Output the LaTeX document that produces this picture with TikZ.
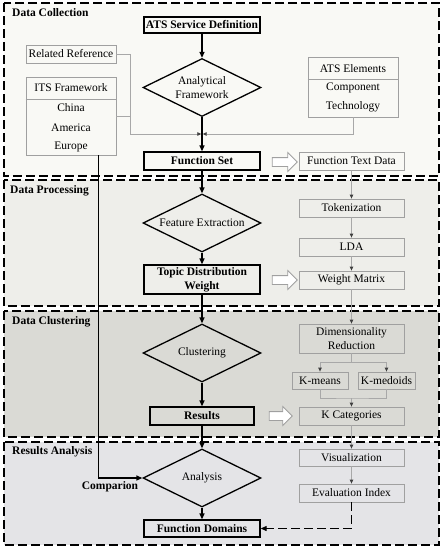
\documentclass[tikz,border=0pt]{standalone}
\usepackage{fontspec}
\setmainfont{Liberation Serif}
\usetikzlibrary{arrows.meta,shapes.geometric,shapes.arrows}
\definecolor{pA}{HTML}{F9F9F5}
\definecolor{pB}{HTML}{EEEEEA}
\definecolor{pC}{HTML}{DADAD5}
\definecolor{pD}{HTML}{E4E4E7}
\definecolor{boxgray}{HTML}{A0A0A0}
\definecolor{linegray}{HTML}{A8A8A8}
\begin{document}
\begin{tikzpicture}[x=1pt,y=-1pt,
  font=\fontsize{11.5}{14}\selectfont,
  panel/.style={draw, line width=1.3pt, dash pattern=on 9pt off 4pt},
  plabel/.style={anchor=west, inner sep=0pt, font=\fontsize{11.5}{14}\selectfont\bfseries},
  mainbox/.style={draw, line width=1.3pt, align=center, inner sep=0pt, minimum width=116pt, minimum height=18pt, font=\fontsize{11.5}{14}\selectfont\bfseries},
  dia/.style={diamond, draw, line width=1.3pt, shape aspect=2, minimum width=118pt, minimum height=58pt, inner sep=0pt, align=center},
  graybox/.style={draw=boxgray, line width=0.8pt, align=center, inner sep=0pt, minimum width=105pt, minimum height=18pt},
  txt/.style={inner sep=0pt, align=center},
  mainarrow/.style={line width=1.3pt, -{Triangle[length=6pt,width=5pt]}},
  grayline/.style={draw=linegray, line width=0.8pt},
  grayarrow/.style={draw=linegray, line width=0.8pt, -{Triangle[length=4pt,width=3.5pt,color=black!75]}},
  hollow/.style={single arrow, draw=boxgray, fill=white, line width=0.8pt, minimum height=25pt, inner sep=4pt, single arrow head extend=5pt}
]
\useasboundingbox (0,0) rectangle (442,550);
% panels
\draw[panel, fill=pA] (4,3) rectangle (439,176);
\draw[panel, fill=pB] (4,180) rectangle (439,306);
\draw[panel, fill=pC] (4,311) rectangle (439,437);
\draw[panel, fill=pD] (4,442) rectangle (439,545);
\node[plabel] (l1) at (12,13) {Data Collection};
\node[plabel] (l2) at (10,191) {Data Processing};
\node[plabel] (l3) at (12,322) {Data Clustering};
\node[plabel] (l4) at (12,452) {Results Analysis};

% main column
\node[mainbox, minimum height=16pt] (asd) at (202,25) {ATS Service Definition};
\node[dia] (af) at (202,87.5) {Analytical\\Framework};
\node[mainbox] (fs) at (202,161) {Function Set};
\node[dia] (fe) at (202,223) {Feature Extraction};
\node[mainbox, minimum height=29pt] (tdw) at (202,279.5) {Topic Distribution\\Weight};
\node[dia] (cl) at (202,353) {Clustering};
\node[mainbox, minimum width=104pt] (res) at (202,416) {Results};
\node[dia] (an) at (202,478) {Analysis};
\node[mainbox, minimum height=17pt] (fd) at (202,528.5) {Function Domains};

% right column
\node[graybox] (ftd) at (351.5,161) {Function Text Data};
\node[graybox] (tok) at (351.5,208) {Tokenization};
\node[graybox] (lda) at (351.5,247) {LDA};
\node[graybox] (wm) at (351.5,280) {Weight Matrix};
\node[graybox, minimum height=29pt] (dr) at (351.5,338.5) {Dimensionality\\Reduction};
\node[graybox, minimum width=56pt, minimum height=17pt] (km) at (320,380.5) {K-means};
\node[graybox, minimum width=57pt, minimum height=17pt] (kmd) at (386.5,380.5) {K-medoids};
\node[graybox] (kc) at (351.5,416) {K Categories};
\node[graybox, minimum height=17pt] (vis) at (351.5,457.5) {Visualization};
\node[graybox] (ei) at (351.5,493) {Evaluation Index};

% left boxes
\node[graybox, minimum width=90pt] (rr) at (71,54) {Related Reference};
\node[graybox, minimum width=90pt, minimum height=78pt] (its) at (71,116) {};
\draw[boxgray, line width=0.8pt] (its.west |- 0,99) -- (its.east |- 0,99);
\node[txt] (itsh) at (71,88) {ITS Framework};
\node[txt] (china) at (71,108) {China};
\node[txt] (america) at (71,127.5) {America};
\node[txt] (europe) at (71,147) {Europe};

\node[graybox, minimum width=90pt, minimum height=60pt] (ate) at (353,87) {};
\draw[boxgray, line width=0.8pt] (ate.west |- 0,79) -- (ate.east |- 0,79);
\node[txt] (ateh) at (353,69) {ATS Elements};
\node[txt] (comp) at (353,88) {Component};
\node[txt] (tech) at (353,107) {Technology};

% hollow arrows
\node[hollow] (h1) at (282.5,162) {};
\node[hollow] (h2) at (282.5,280) {};
\node[hollow, minimum height=23pt] (h3) at (278.5,416) {};

% gray connectors into junction
\coordinate (jl) at (130,134);
\coordinate (jn) at (202,134);
\draw[grayarrow] (rr.east) -| (jl) -- ([xshift=-0.7pt]jn);
\draw[grayline] (its.east) -- (jl |- its.east);
\draw[grayarrow] (ate.south) |- ([xshift=0.7pt]jn);

% main arrows
\draw[mainarrow] (asd) -- (af);
\draw[mainarrow] (af) -- (fs);
\draw[mainarrow] (fs) -- (fe);
\draw[mainarrow] (fe) -- (tdw);
\draw[mainarrow] (tdw) -- (cl);
\draw[mainarrow] (cl) -- (res);
\draw[mainarrow] (res) -- (an);
\draw[mainarrow] (an) -- (fd);
\draw[mainarrow] ([xshift=-18pt]its.south east) |- (an.west);
\node[plabel, anchor=center] (cmp) at (110,487) {Comparion};

% right column arrows
\draw[grayarrow] (ftd) -- (tok);
\draw[grayarrow] (tok) -- (lda);
\draw[grayarrow] (lda) -- (wm);
\draw[grayarrow] (wm) -- (dr);
\coordinate (br) at (351.5,362);
\draw[grayline] (dr.south) -- (br);
\draw[grayarrow] (br) -| (km.north);
\draw[grayarrow] (br) -| (kmd.north);
\coordinate (mg) at (351.5,398);
\draw[grayline] (km.south) |- (mg) -| (kmd.south);
\draw[grayarrow] (mg) -- (kc.north);
\draw[grayarrow] (kc) -- (vis);
\draw[grayarrow] (vis) -- (ei);
\draw[line width=1pt, dash pattern=on 9pt off 4pt, -{Triangle[length=6pt,width=5pt]}] (ei.south) |- (fd.east);
\end{tikzpicture}
\end{document}
